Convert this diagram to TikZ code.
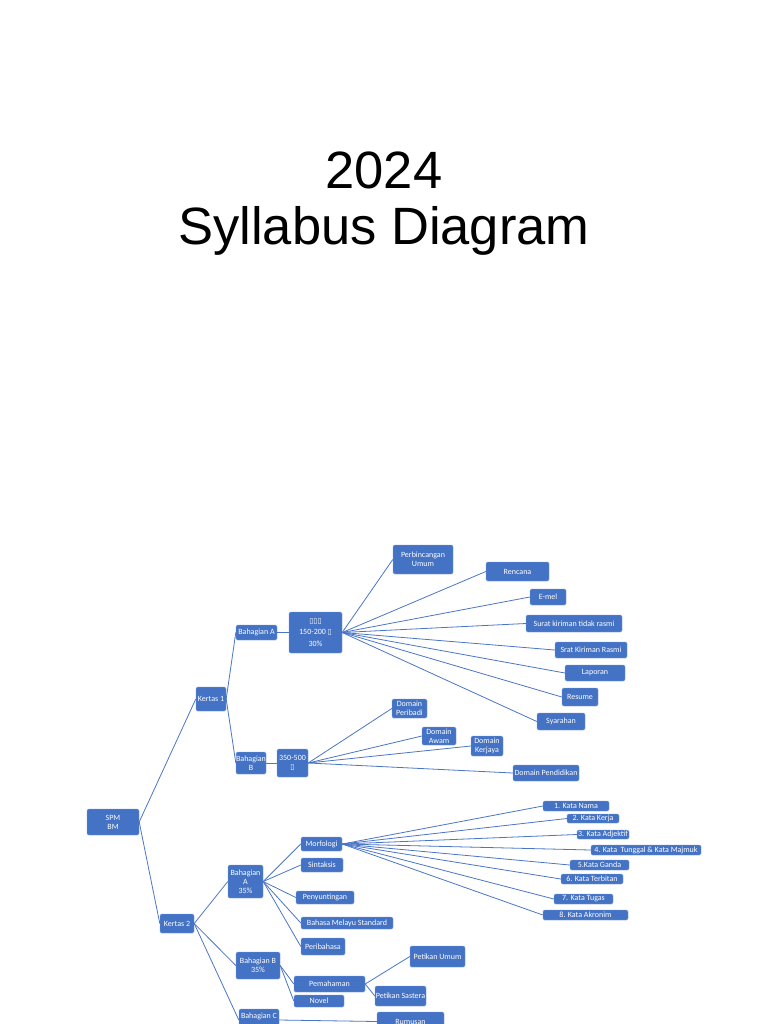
\documentclass[tikz,border=0pt]{standalone}
\usepackage{fontspec}
\setmainfont{Liberation Sans}
\newfontfamily\carlito{Carlito}
\newfontfamily\dejavu{DejaVu Sans}
\definecolor{boxblue}{HTML}{4472C4}
\definecolor{boxedge}{HTML}{7B9BD8}
\definecolor{linkblue}{HTML}{4A76C6}
\newcommand\tofu{{\dejavu\fontsize{7.5}{9}\selectfont ▯}}
\newcommand\bx[6]{\node[box,minimum width={#4-#2},minimum height={#5-#3}] (#1) at ({(#2+#4)/2},{(#3+#5)/2}) {#6};}
\tikzset{
  box/.style={rectangle, rounded corners=1.5pt, fill=boxblue, draw=boxedge, line width=0.4pt,
    text=white, font=\carlito\fontsize{8}{9.2}\selectfont, inner sep=0pt, align=center},
  conn/.style={draw=linkblue, line width=0.8pt},
  titletext/.style={font=\fontsize{52.5}{60}\selectfont, anchor=base, inner sep=0pt}
}
\begin{document}
\begin{tikzpicture}[x=1pt,y=-1pt]
\useasboundingbox (0,0) rectangle (768,1024);
\fill[white] (0,0) rectangle (768,1024);
% title
\node[titletext] (t1) at (384,189) {2024};
\node[titletext] (t2) at (384,244) {Syllabus Diagram};
% Kertas 1 tree
\bx{spm}{87}{809}{139}{835}{SPM\\BM}
\bx{k1}{196}{687}{226}{711}{Kertas 1}
\bx{ka}{236}{625}{277}{640}{Bahagian A}
\node[box,minimum width=53,minimum height=41,font=\carlito\fontsize{8}{11.5}\selectfont] (kaa) at (315.5,632.5) {\tofu\tofu\tofu\\150-200 \tofu\\30\%};
\bx{pu}{393}{545}{453}{574}{Perbincangan\\Umum}
\bx{ren}{486}{562}{549}{581}{Rencana}
\bx{em}{530}{589}{566}{605}{E-mel}
\bx{skt}{526}{615}{622}{632}{Surat kiriman tidak rasmi}
\bx{skr}{555}{642}{627}{658}{Srat Kiriman Rasmi}
\bx{lap}{565}{665}{625}{681}{Laporan}
\bx{res}{562}{688}{598}{706}{Resume}
\bx{sya}{537}{713}{585}{730}{Syarahan}
\bx{kb}{236}{752}{266}{774}{Bahagian\\B}
\bx{kbb}{277}{749}{308}{777}{350-500\\\tofu}
\bx{dp}{392}{699}{427}{718}{Domain\\Peribadi}
\bx{da}{422}{727}{456}{745}{Domain\\Awam}
\bx{dk}{471}{736}{503}{756}{Domain\\Kerjaya}
\bx{dpe}{513}{765}{579}{781}{Domain Pendidikan}
% Kertas 2 tree
\bx{k2}{160}{914}{194}{933}{Kertas 2}
\bx{ba}{228}{865}{263}{898}{Bahagian\\A\\35\%}
\bx{mor}{301}{837}{342}{851}{Morfologi}
\bx{sin}{301}{858}{343}{872}{Sintaksis}
\bx{pen}{296}{891}{354}{904}{Penyuntingan}
\bx{bms}{301}{917}{393}{929}{Bahasa Melayu Standard}
\bx{per}{301}{938}{345}{955}{Peribahasa}
\bx{m1}{543}{801}{609}{811}{1. Kata Nama}
\bx{m2}{567}{814}{619}{823}{2. Kata Kerja}
\bx{m3}{577}{830}{629}{839}{3. Kata Adjektif}
\bx{m4}{591}{845}{701}{855}{4. Kata\ \ Tunggal \& Kata Majmuk}
\bx{m5}{570}{860}{629}{870}{5.Kata Ganda}
\bx{m6}{561}{874}{623}{884}{6. Kata Terbitan}
\bx{m7}{554}{894}{613}{904}{7. Kata Tugas}
\bx{m8}{543}{910}{628}{920}{8. Kata Akronim}
\bx{bb}{236}{952}{280}{979}{Bahagian B\\35\%}
\bx{pem}{294}{976}{365}{992}{Pemahaman}
\bx{nov}{294}{995}{344}{1007}{Novel}
\bx{petu}{410}{946}{465}{967}{Petikan Umum}
\bx{pets}{375}{986}{426}{1006}{Petikan Sastera}
\bx{bc}{239}{1009}{279}{1031}{Bahagian C\\\mbox{}}
\bx{rum}{377}{1012}{444}{1031}{Rumusan}
% connectors
\draw[conn] (spm.east) -- (k1.west);
\draw[conn] (spm.east) -- (k2.west);
\draw[conn] (k1.east) -- (ka.west);
\draw[conn] (k1.east) -- (kb.west);
\draw[conn] (ka.east) -- (kaa.west);
\draw[conn] (kb.east) -- (kbb.west);
\foreach \c in {pu,ren,em,skt,skr,lap,res,sya} \draw[conn] (kaa.east) -- (\c.west);
\foreach \c in {dp,da,dk,dpe} \draw[conn] (kbb.east) -- (\c.west);
\draw[conn] (k2.east) -- (ba.west);
\draw[conn] (k2.east) -- (bb.west);
\draw[conn] (k2.east) -- (bc.west);
\foreach \c in {mor,sin,pen,bms,per} \draw[conn] (ba.east) -- (\c.west);
\foreach \c in {m1,m2,m3,m4,m5,m6,m7,m8} \draw[conn] (mor.east) -- (\c.west);
\draw[conn] (bb.east) -- (pem.west);
\draw[conn] (bb.east) -- (nov.west);
\draw[conn] (pem.east) -- (petu.west);
\draw[conn] (pem.east) -- (pets.west);
\draw[conn] (bc.east) -- (rum.west);
\end{tikzpicture}
\end{document}
